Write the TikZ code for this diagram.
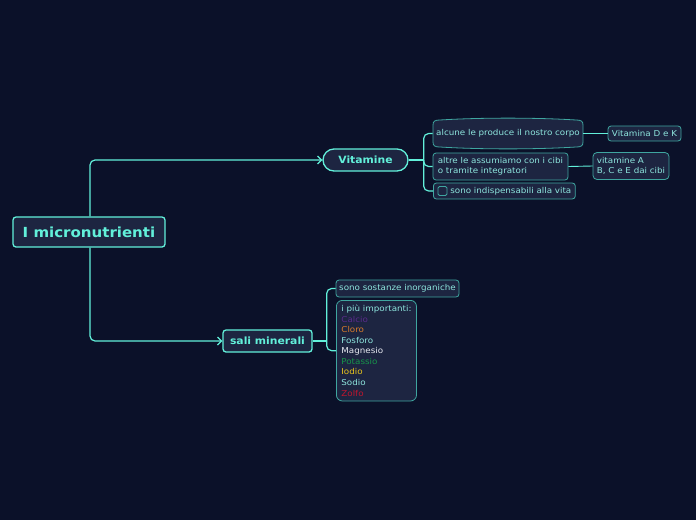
\documentclass[tikz,border=0pt]{standalone}
\usepackage{fontspec}
\setmainfont{DejaVu Sans}[FakeStretch=1.08]
\usepackage{xcolor}
\usepackage{tikz}
\usetikzlibrary{arrows.meta,calc,positioning}
\definecolor{bgnavy}{HTML}{0B1129}
\definecolor{nodefill}{HTML}{1D2541}
\definecolor{mapcyan}{HTML}{62F0DA}
\definecolor{leafteal}{HTML}{3FA6A0}
\definecolor{leaftext}{HTML}{8EE6DE}
\definecolor{calcio}{HTML}{5B2A8C}
\definecolor{cloro}{HTML}{D97B2B}
\definecolor{magnesio}{HTML}{E6E8F0}
\definecolor{potassio}{HTML}{17944A}
\definecolor{iodio}{HTML}{E8C51C}
\definecolor{zolfo}{HTML}{C0162E}
\tikzset{
  topic/.style={draw=mapcyan,fill=nodefill,line width=1.3pt,text=mapcyan,inner sep=0pt,
    rounded corners=3pt,font=\bfseries\fontsize{10}{12}\selectfont},
  leaf/.style={draw=leafteal,fill=nodefill,line width=0.8pt,text=leaftext,inner sep=0pt,
    rounded corners=3pt,align=left,font=\fontsize{8.1}{9.8}\selectfont},
  link/.style={draw=mapcyan,line width=1.2pt,rounded corners=5pt},
  leaflink/.style={draw=mapcyan,line width=0.9pt},
  tip/.style={-{Straight Barb[length=4pt,width=8pt]}}
}

\begin{document}
\begin{tikzpicture}[x=1pt,y=-1pt]
  \fill[bgnavy] (0,0) rectangle (696,520);
  \useasboundingbox (0,0) rectangle (696,520);
  \node[topic,minimum width=152pt,minimum height=30pt,font=\bfseries\fontsize{13.9}{16}\selectfont] (root) at (89,232) {I micronutrienti};
  \node[topic,minimum width=85pt,minimum height=22pt,rounded corners=11pt] (vit) at (365.5,160) {Vitamine};
  \node[topic,minimum width=89pt,minimum height=22pt] (sali) at (267.5,341) {sali minerali};
  \draw[link,tip] ([xshift=1]root.north) |- (vit.west);
  \draw[link,tip] ([xshift=1]root.south) |- (sali.west);

  \draw[draw=leafteal,fill=nodefill,line width=0.8pt] (433,125) -- (433,142)
    .. controls (433,146) and (435,147) .. (440,147)
    .. controls (480,149.5) and (536,149.5) .. (576,147)
    .. controls (581,147) and (583,146) .. (583,142) -- (583,125)
    .. controls (583,121) and (581,120) .. (576,120)
    .. controls (536,117.5) and (480,117.5) .. (440,120)
    .. controls (435,120) and (433,121) .. (433,125) -- cycle;
  \node[leaf,draw=none,fill=none,minimum width=150pt,minimum height=27pt] (prod) at (508,133.5) {alcune le produce il nostro corpo};
  \node[leaf,minimum width=73pt,minimum height=15pt] (vitdk) at (644.5,133.5) {Vitamina D e K};
  \node[leaf,minimum width=135pt,minimum height=27pt] (cibi) at (500.5,166.5) {altre le assumiamo con i cibi\\o tramite integratori};
  \node[leaf,minimum width=76pt,minimum height=27pt,rounded corners=4pt] (vitabce) at (631,166) {vitamine A\\B, C e E dai cibi};
  \node[leaf,anchor=west,inner xsep=4pt,minimum height=16pt] (vita) at (433,191) {\hspace{13pt}sono indispensabili alla vita};
  \draw[leafteal,fill=nodefill,line width=0.8pt,rounded corners=1.5pt] ([shift={(5,-4.5)}]vita.west) rectangle +(9,9);
  \coordinate (vfork) at ([xshift=15]vit.east);
  \draw[link] (vit.east) -- (vfork);
  \foreach \c in {prod,cibi,vita}
    \draw[link] (vfork) |- (\c.west);
  \draw[leaflink] (prod.east) -- (vitdk.west);
  \draw[leaflink] (cibi.east) -- (vitabce.west);

  \node[leaf,minimum width=123pt,minimum height=17pt] (inorg) at (397.5,288.5) {sono sostanze inorganiche};
  \node[leaf,anchor=north west,inner xsep=5pt,inner ysep=4.8pt,rounded corners=6pt,font=\fontsize{8.1}{10.55}\selectfont] (elenco) at (336,300)
    {i più importanti:\\\textcolor{calcio}{Calcio}\\\textcolor{cloro}{Cloro}\\Fosforo\\\textcolor{magnesio}{Magnesio}\\\textcolor{potassio}{Potassio}\\\textcolor{iodio}{Iodio}\\Sodio\\\textcolor{zolfo}{Zolfo}};
  \coordinate (sfork) at ([xshift=14]sali.east);
  \draw[link] (sali.east) -- (sfork);
  \foreach \c in {inorg,elenco}
    \draw[link] (sfork) |- (\c.west);
\end{tikzpicture}
\end{document}
